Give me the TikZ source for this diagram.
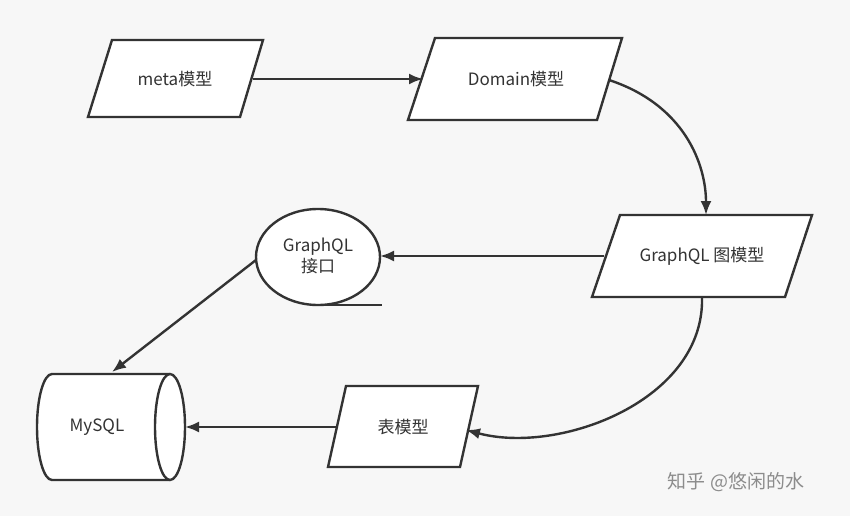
\documentclass[tikz,border=0pt]{standalone}
\usepackage{fontspec}
\setmainfont{Noto Sans CJK SC}
\usetikzlibrary{arrows.meta}
\definecolor{ln}{HTML}{333333}
\begin{document}
\begin{tikzpicture}[x=1pt,y=-1pt,
  shp/.style={draw=ln,line width=2.4pt,fill=white,line join=miter},
  lbl/.style={font=\fontsize{17}{21}\selectfont,text=ln,align=center},
  con/.style={draw=ln,line width=2.4pt,-{Latex[length=14pt,width=11pt]}}]
\fill[white!97!black] (0,0) rectangle (850,516);
\useasboundingbox (0,0) rectangle (850,516);
% parallelograms
\draw[shp] (112,40)--(263,40)--(240,117)--(88,117)--cycle;
\node[lbl] (meta) at (175,79) {meta模型};
\draw[shp] (435,38)--(622,38)--(597,120)--(408,120)--cycle;
\node[lbl] (dom) at (516,79) {Domain模型};
\draw[shp] (620,215)--(812,215)--(785,297)--(592,297)--cycle;
\node[lbl] (gm) at (702,256) {GraphQL 图模型};
\draw[shp] (346,386)--(478,386)--(460,467)--(328,467)--cycle;
\node[lbl] (tb) at (403,427) {表模型};
% sequential data
\draw[shp] (318,257) ellipse[x radius=62,y radius=48];
\draw[ln,line width=2.4pt] (318,305)--(382,305);
\node[lbl] (api) at (318,256) {GraphQL\\接口};
% cylinder
\draw[shp] (52,374)--(170,374) arc[start angle=270,end angle=450,x radius=15,y radius=53]--(52,480) arc[start angle=90,end angle=270,x radius=15,y radius=53]--cycle;
\draw[shp] (170,374) arc[start angle=270,end angle=90,x radius=15,y radius=53];
\node[lbl] (db) at (97,427) {MySQL};
% anchor coordinates
\coordinate (metaE) at (253,79);
\coordinate (domW) at (423,79);
\coordinate (domE) at (609,80);
\coordinate (gmN) at (706,215);
\coordinate (gmW) at (604,256);
\coordinate (apiE) at (380,256);
\coordinate (apiW) at (256,260);
\coordinate (dbN) at (112,372);
\coordinate (gmS) at (702,297);
\coordinate (tbE) at (466,430);
\coordinate (tbW) at (338,427);
\coordinate (dbE) at (185,427);
\draw[con] (metaE)--(domW);
\draw[con] (domE) .. controls (685,105) and (706,165) .. (gmN);
\draw[con] (gmW)--(apiE);
\draw[con] (apiW)--(dbN);
\draw[con] (gmS) .. controls (705,400) and (560,455) .. (tbE);
\draw[con] (tbW)--(dbE);
\node[font=\fontsize{19}{22}\selectfont,text=white!55!black] (wm) at (736,482) {知乎 @悠闲的水};
\end{tikzpicture}
\end{document}
